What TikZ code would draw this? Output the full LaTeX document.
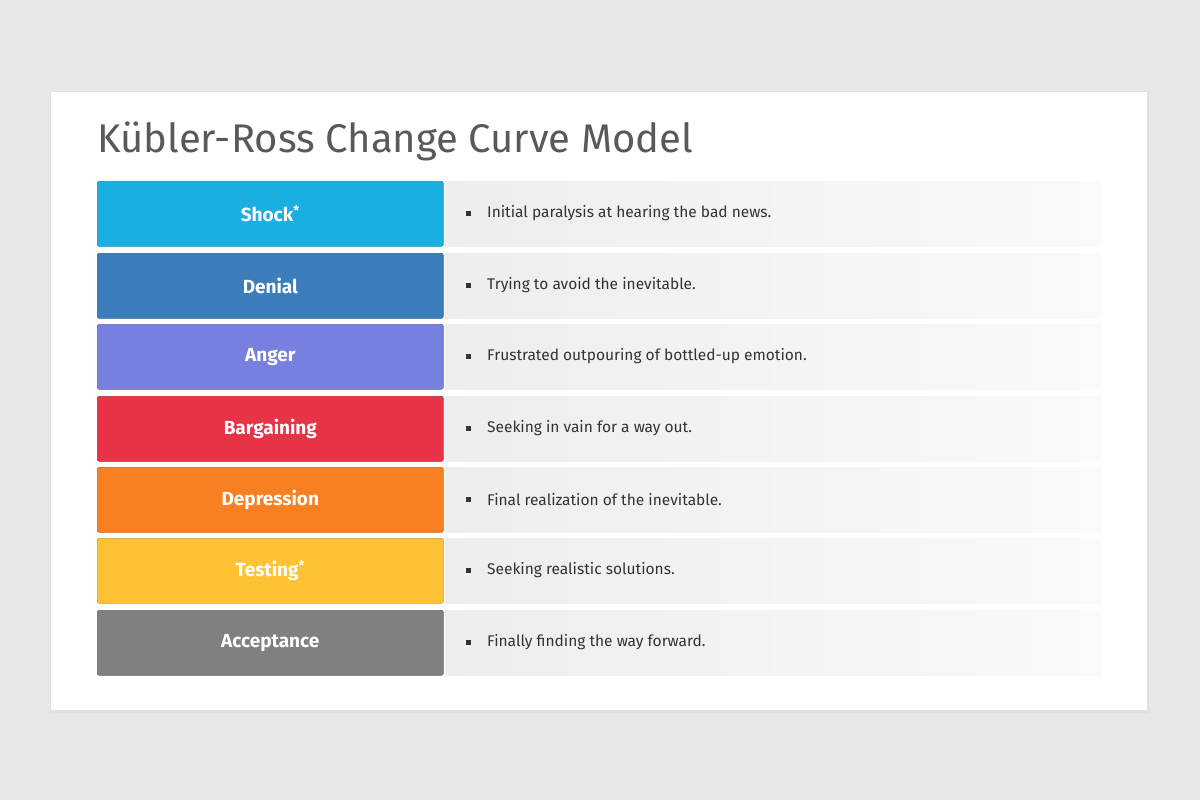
\documentclass[tikz,border=0pt]{standalone}
\usepackage{fontspec}
\setmainfont{Fira Sans}
\begin{document}
\begin{tikzpicture}[x=1pt,y=-1pt,
  lab/.style={draw=#1!80!black,fill=#1,rounded corners=2pt,line width=0.6pt,minimum width=346pt,minimum height=65pt,anchor=north west,inner sep=0pt,text=white,font=\fontsize{19}{22}\selectfont\bfseries},
  desc/.style={anchor=west,text=black!80,font=\fontsize{15.5}{18}\selectfont,inner sep=0pt}]
\definecolor{bg}{HTML}{E8E6E7}
\definecolor{cShock}{HTML}{1AAFE0}
\definecolor{cDenial}{HTML}{3C7DBC}
\definecolor{cAnger}{HTML}{7780DE}
\definecolor{cBarg}{HTML}{E83346}
\definecolor{cDep}{HTML}{F88023}
\definecolor{cTest}{HTML}{FFC234}
\definecolor{cAcc}{HTML}{808080}
\fill[bg] (0,0) rectangle (1200,800);
\useasboundingbox (0,0) rectangle (1200,800);
\fill[black!12] (50,91) rectangle (1149,713);
\fill[white] (51,92) rectangle (1147,710);
\node[anchor=west,inner sep=0pt,text=black!65,font=\fontsize{40}{44}\selectfont] (title) at (97,141) {Kübler-Ross Change Curve Model};
\foreach \y/\c/\t/\d [count=\i] in {181/cShock/{Shock\textsuperscript{*}}/{Initial paralysis at hearing the bad news.},
 253/cDenial/Denial/{Trying to avoid the inevitable.},
 324/cAnger/Anger/{Frustrated outpouring of bottled-up emotion.},
 396/cBarg/Bargaining/{Seeking in vain for a way out.},
 467/cDep/Depression/{Final realization of the inevitable.},
 538/cTest/{Testing\textsuperscript{*}}/{Seeking realistic solutions.},
 610/cAcc/Acceptance/{Finally finding the way forward.}}{
  \shade[left color=black!7,right color=black!2] (445,\y) rectangle (1101,\y+65);
  \node[lab=\c] (l\i) at (97,\y) {\t};
  \fill[black!80] (466,\y+30) rectangle (471,\y+35);
  \node[desc] (d\i) at (487,\y+32.5) {\d};
}
\end{tikzpicture}
\end{document}
